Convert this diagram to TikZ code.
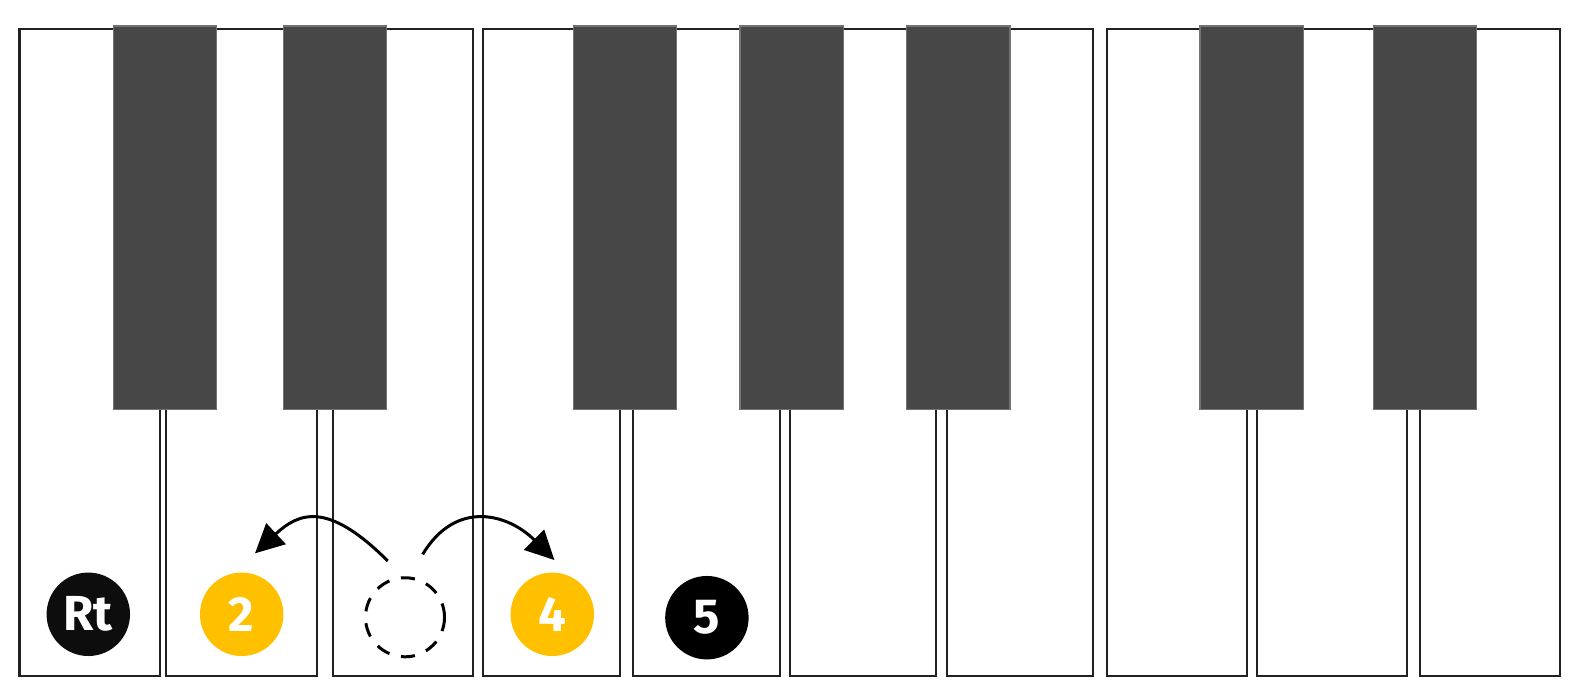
\documentclass[tikz,border=0pt]{standalone}
\usepackage{fontspec}
\setsansfont{Fira Sans}
\usetikzlibrary{arrows.meta,calc}
\definecolor{keygray}{HTML}{474747}
\definecolor{dotgold}{HTML}{FFC000}
\definecolor{dotblack}{HTML}{0D0D0D}
\begin{document}
\begin{tikzpicture}[x=0.01cm, y=0.01cm, white key/.style={draw=black!87, line width=0.6pt, fill=white}, black key/.style={draw=black!55, line width=0.3pt, fill=keygray}, finger/.style={circle, minimum size=0.834cm, inner sep=0pt, text=white, font=\sffamily\bfseries\fontsize{14}{14}\selectfont}, open finger/.style={circle, draw=black, dash pattern=on 4pt off 3.4pt, line width=0.85pt, minimum size=0.79cm, inner sep=0pt}, hop/.style={-{Triangle[length=8.2pt, width=8pt]}, line width=0.85pt}]%
\useasboundingbox (0,0) rectangle (1590,700);
\begin{scope}%white keys
\draw[white key] (19.5,24.3) rectangle (160,670.7);
\draw[white key] (166,24.3) rectangle (316.7,670.7);
\draw[white key] (333,24.3) rectangle (473.3,670.7);
\draw[white key] (483.3,24.3) rectangle (620,670.7);
\draw[white key] (633,24.3) rectangle (780,670.7);
\draw[white key] (790,24.3) rectangle (936,670.7);
\draw[white key] (946.7,24.3) rectangle (1093.3,670.7);
\draw[white key] (1106.7,24.3) rectangle (1246.7,670.7);
\draw[white key] (1256.7,24.3) rectangle (1406.7,670.7);
\draw[white key] (1420,24.3) rectangle (1560,670.7);
\end{scope}
\begin{scope}%black keys
\draw[black key] (113.3,290.7) rectangle (216.7,674);
\draw[black key] (283.3,290.7) rectangle (386.7,674);
\draw[black key] (573.3,290.7) rectangle (676.7,674);
\draw[black key] (740,290.7) rectangle (843.3,674);
\draw[black key] (906.7,290.7) rectangle (1010,674);
\draw[black key] (1200,290.7) rectangle (1303.3,674);
\draw[black key] (1373.3,290.7) rectangle (1476.7,674);
\end{scope}
\node[finger, fill=dotblack] (v1) at (88.3,85.7) {Rt};
\node[finger, fill=dotgold] (v2) at (241.7,85.7) {2};
\node[open finger] (v3) at (405,82.7) {};
\node[finger, fill=dotgold] (v4) at (552.3,85.7) {4};
\node[finger, fill=black] (v5) at (706.9,82.3) {5};
%hops from the open finger
\draw[hop] ($(v3)+(107:58.9)$) .. controls +(135:85) and +(43:60) .. ($(v2)+(77.7:62.4)$);
\draw[hop] ($(v3)+(74.3:65.4)$) .. controls +(59:65) and +(135:65) .. ($(v4)+(87.8:54.3)$);
\end{tikzpicture}
\end{document}
